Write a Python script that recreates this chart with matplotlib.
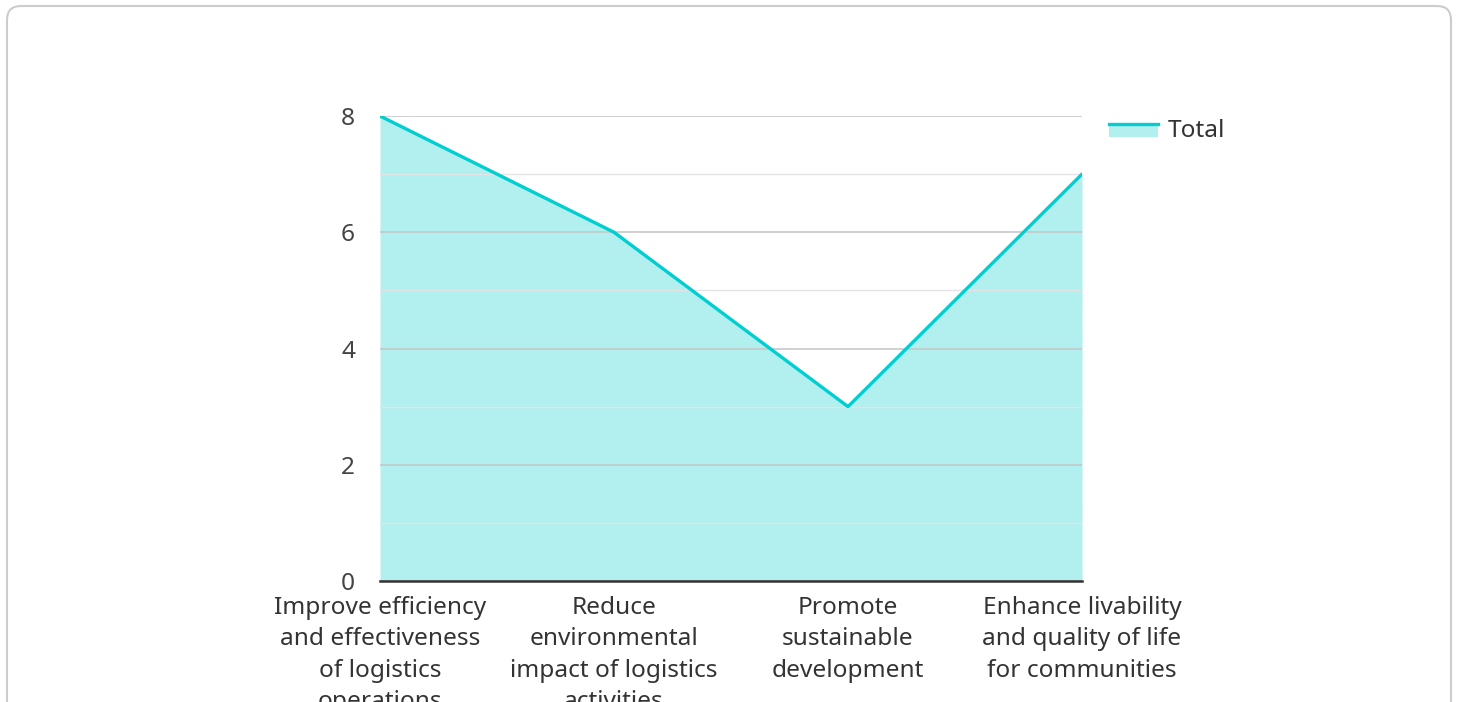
import matplotlib.pyplot as plt
import numpy as np
from matplotlib.patches import FancyBboxPatch, Rectangle
from matplotlib.lines import Line2D
from matplotlib.legend_handler import HandlerBase

plt.rcParams['font.family'] = ['Noto Sans', 'DejaVu Sans']

# data
categories = [
    "Improve efficiency\nand effectiveness\nof logistics\noperations",
    "Reduce\nenvironmental\nimpact of logistics\nactivities",
    "Promote\nsustainable\ndevelopment",
    "Enhance livability\nand quality of life\nfor communities",
]
totals = [8, 6, 3, 7]
y_ticks = [0, 2, 4, 6, 8]
y_minor = [1, 3, 5, 7]

line_color = '#00CED1'
fill_color = '#B2EFEF'


class AreaHandler(HandlerBase):
    # patch with the line on its top edge, like the reference legend
    def create_artists(self, legend, orig_handle, xdescent, ydescent,
                       width, height, fontsize, trans):
        top = height * 0.75
        rect = Rectangle((-xdescent, -ydescent), width, top,
                         facecolor=fill_color, edgecolor='none', transform=trans)
        ln = Line2D([-xdescent, -xdescent + width], [top, top],
                    color=line_color, lw=2.4, transform=trans)
        return [rect, ln]


fig = plt.figure(figsize=(14.58, 7.02), dpi=100)

# card background, drawn behind the axes
card = FancyBboxPatch((7 / 1458, -0.05), 1444 / 1458, 1.05 - 6 / 702,
                      boxstyle='round,pad=0,rounding_size=0.0096',
                      transform=fig.transFigure, facecolor='white',
                      edgecolor='#cccccc', linewidth=1.5,
                      mutation_aspect=1458 / 702, zorder=-5)
fig.patches.append(card)

ax = fig.add_axes([380 / 1458, 121 / 702, 702 / 1458, 465 / 702])
ax.patch.set_alpha(0)

x = np.arange(len(categories))
ax.fill_between(x, totals, 0, color=fill_color, linewidth=0, zorder=1)
ax.plot(x, totals, color=line_color, lw=2.4, zorder=3, solid_capstyle='round')

ax.set_xlim(x[0], x[-1])
ax.set_ylim(0, 8)
ax.set_yticks(y_ticks)
ax.set_yticks(y_minor, minor=True)
ax.set_xticks(x)
ax.set_xticklabels(categories, fontsize=17.6, color='#333333', linespacing=1.4)
ax.tick_params(axis='y', which='both', length=0, pad=18, labelsize=17.6, labelcolor='#444444')
ax.tick_params(axis='x', length=0, pad=11)

ax.grid(axis='y', which='major', color='#c4c4c4', lw=1.1, zorder=2)
ax.grid(axis='y', which='minor', color='#e4e4e4', lw=1.0, zorder=2)
ax.set_axisbelow(False)

for side in ['top', 'right', 'left']:
    ax.spines[side].set_visible(False)
ax.spines['bottom'].set_color('#333333')
ax.spines['bottom'].set_linewidth(1.8)
ax.spines['bottom'].set_zorder(4)

ax.legend([object()], ['Total'], handler_map={object: AreaHandler()},
          loc='upper left', bbox_to_anchor=(1.007, 1.0415), frameon=False,
          fontsize=17.6, handlelength=2.0, handletextpad=0.42, labelcolor='#333333')

fig.savefig('out.png', dpi=100)
